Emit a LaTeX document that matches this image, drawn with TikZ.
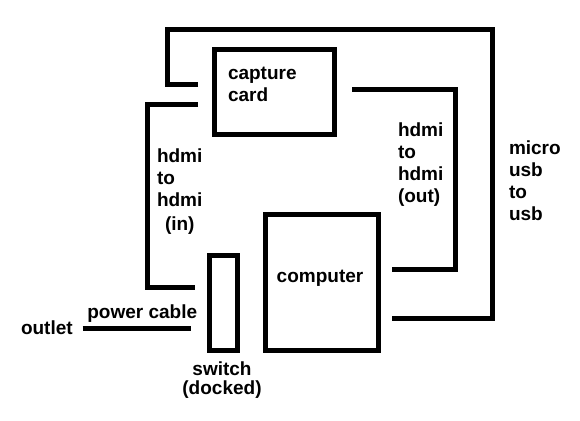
\documentclass[tikz,border=0pt]{standalone}
\usepackage{fontspec}
\setmainfont{Liberation Sans}
\usetikzlibrary{calc}

\begin{document}
\begin{tikzpicture}[x=1pt, y=-1pt, line width=5pt, font=\bfseries\fontsize{19}{22}\selectfont]

    \tikzstyle{box}=[draw=black, fill=white, inner sep=0pt]
    \tikzstyle{cable}=[draw=black]
    \tikzstyle{lbl}=[align=left, inner sep=0pt, outer sep=0pt, anchor=base west]

    \useasboundingbox (0,0) rectangle (580,420);

    \node[box, minimum width=120pt, minimum height=85pt]  (capture)  at (274.5,92)  {};
    \node[box, minimum width=113pt, minimum height=136pt] (computer) at (321.5,282) {};
    \node[box, minimum width=28pt, minimum height=95pt]   (switch)   at (223,302.5) {};

    % multi-line labels sit on the baseline of their last line
    \node[lbl] (capturetxt)  at (228,101) {capture\\card};
    \node[lbl, anchor=base] (computertxt) at (320,282) {computer};
    \node[lbl, align=center, anchor=base] (switchtxt) at (222,394) {switch\\[-3pt](docked)};
    \node[lbl] (outlet) at (21,334) {outlet};
    \node[lbl] (inlbl)  at (157,230) {hdmi\\to\\hdmi\\[2pt]\hspace*{8pt}(in)};
    \node[lbl] (outlbl) at (398,202) {hdmi\\to\\hdmi\\(out)};
    \node[lbl] (usblbl) at (509,220) {micro\\usb\\to\\usb};

    \coordinate (plug) at ($(switch.west)+(-15.5,25.5)$);

    % cables
    \draw[cable] ($(capture.west)+(-14,-8)$) -| (167.5,29.5) -| (492,318.5)
        -- ($(computer.east)+(11.5,36.5)$);
    \draw[cable] ($(capture.west)+(-14,12)$) -| (147.5,287)
        -- ($(switch.west)+(-11.5,-15.5)$);
    \draw[cable] ($(capture.east)+(15,-2.5)$) -| (455.5,269.5)
        -- ($(computer.east)+(11.5,-12.5)$);
    \draw[cable] ($(outlet.east |- plug)+(10,0)$) -- node[lbl, anchor=base, pos=0.55, yshift=10pt] (powerlbl) {power cable} (plug);
\end{tikzpicture}
\end{document}
